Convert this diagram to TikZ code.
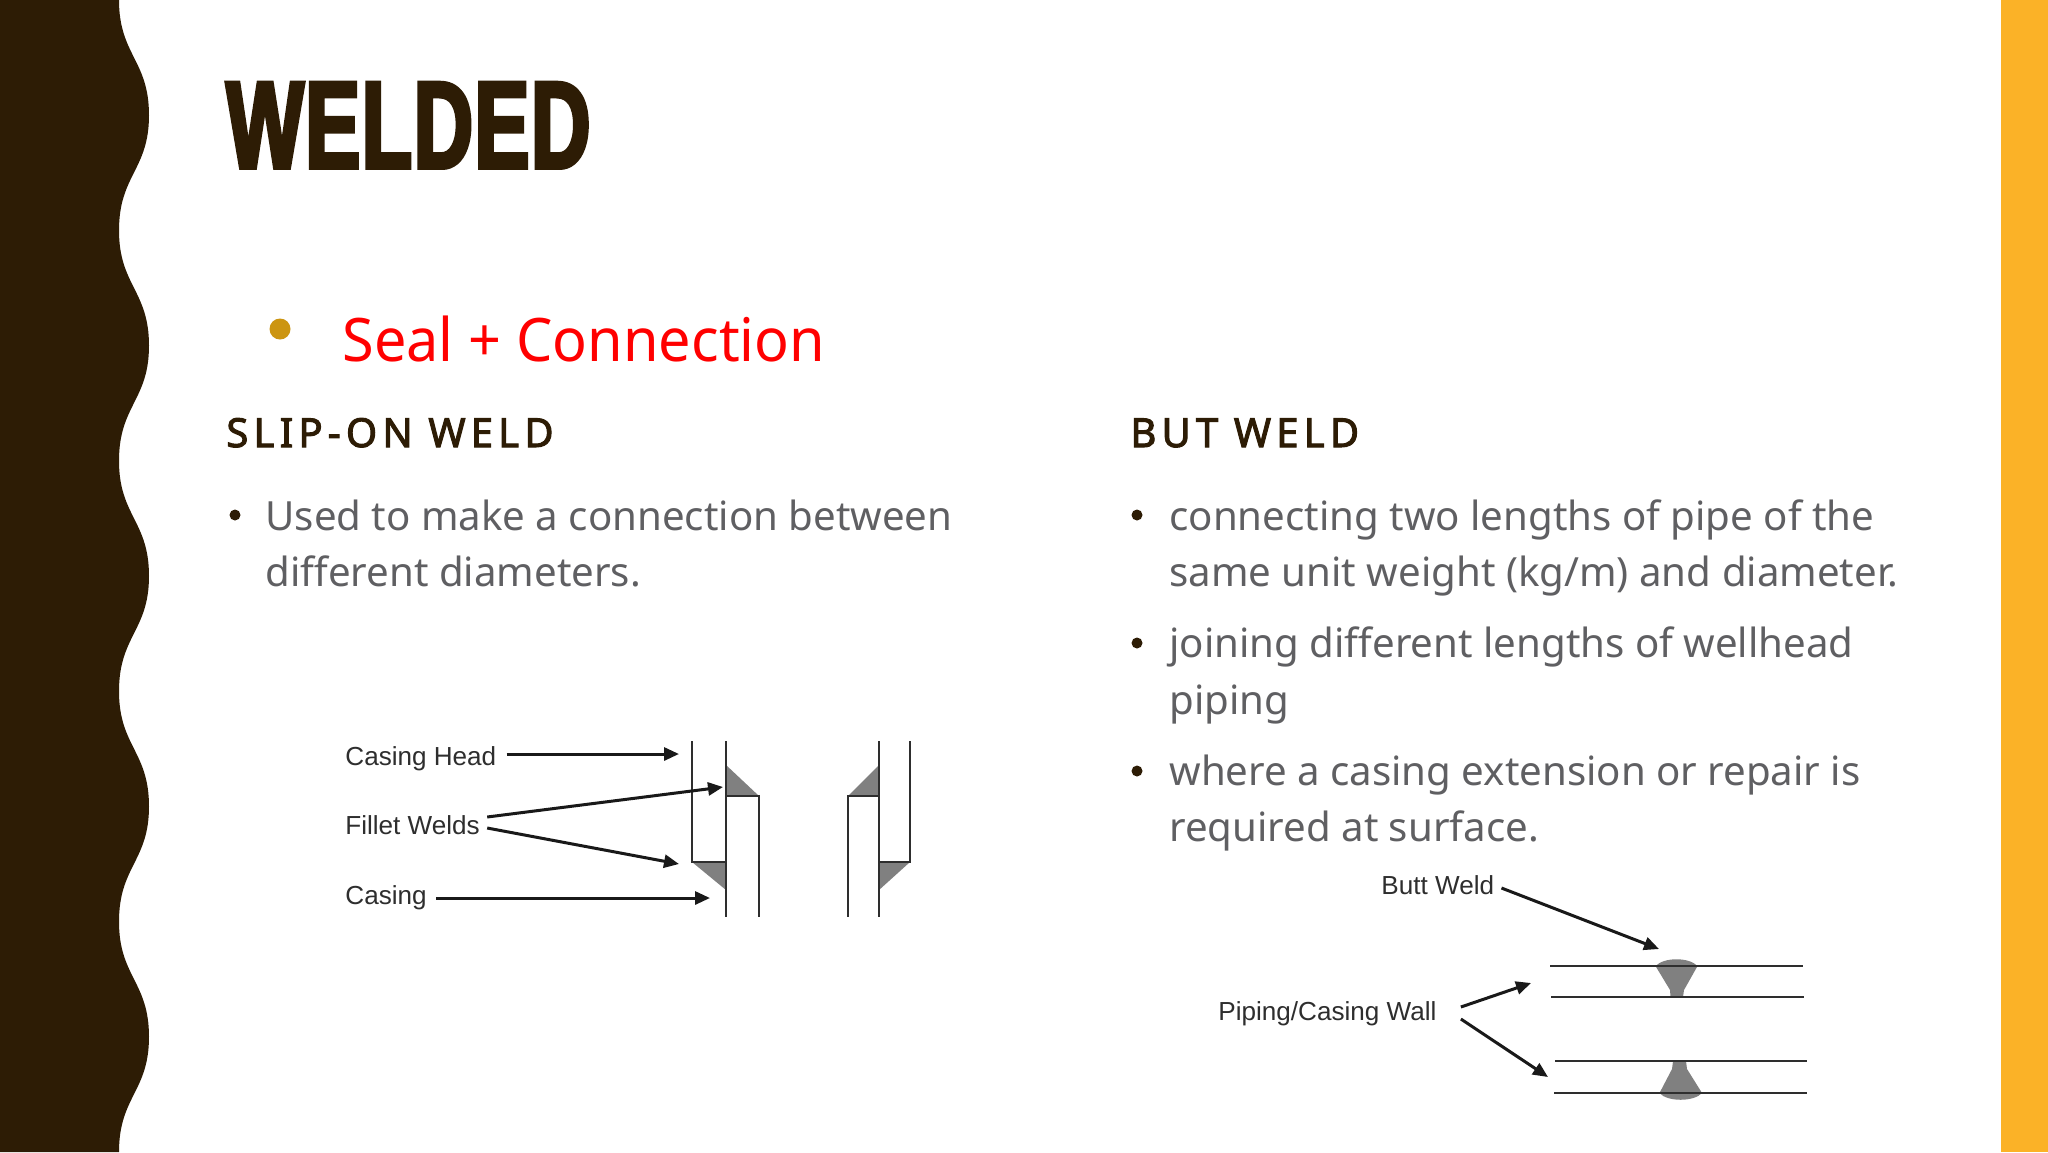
\documentclass[tikz,border=0pt]{standalone}
\usepackage{fontspec}
\usetikzlibrary{arrows.meta}
\setmainfont{Noto Sans}
\newfontfamily\titlefont[FakeStretch=0.66,FakeBold=3.2,LetterSpace=1.5]{Liberation Sans Bold}
\newfontfamily\figfont{Liberation Sans}
\newfontfamily\headfont[FakeBold=2.5,LetterSpace=13]{Noto Sans}
\newfontfamily\sealfont[FakeStretch=0.96]{Noto Sans}
\definecolor{brownD}{HTML}{2D1C05}
\definecolor{barY}{HTML}{FBB227}
\definecolor{bulG}{HTML}{CC9511}
\definecolor{bodyG}{HTML}{5F5F62}
\definecolor{weldG}{HTML}{808080}
\definecolor{figT}{HTML}{2E2E2E}
\tikzset{
  x=0.5pt,y=-0.5pt,
  titlet/.style={anchor=base west,inner sep=0pt,text=brownD,font=\titlefont\fontsize{62}{62}\selectfont},
  headt/.style={anchor=base west,inner sep=0pt,text=brownD,font=\headfont\fontsize{20}{20}\selectfont},
  bodyt/.style={anchor=base west,inner sep=0pt,text=bodyG,font=\fontsize{20.1}{20.1}\selectfont},
  figt/.style={anchor=west,inner sep=0pt,text=figT,font=\figfont\fontsize{13.05}{13.05}\selectfont},
  arr/.style={draw=black!90,line width=1.5pt,-{Triangle[length=7.5pt,width=6.5pt]}},
  pipe/.style={draw=figT,line width=1pt},
  weld/.style={fill=weldG,draw=none},
}
\begin{document}
\begin{tikzpicture}
\useasboundingbox (0,0) rectangle (2048,1152);
\fill[white] (0,0) rectangle (2048,1152);
% left wave
\fill[brownD] (0,0) -- (119,0)
  \foreach \k in {0,1,2,3,4}{
    .. controls ({119},{\k*230.4+55}) and ({149},{\k*230.4+60}) .. ({149},{\k*230.4+115.2})
    .. controls ({149},{\k*230.4+170}) and ({119},{\k*230.4+175}) .. ({119},{\k*230.4+230.4})
  } -- (0,1152) -- cycle;
% right bar
\fill[barY] (2001,0) rectangle (2048,1152);
% title
\node[titlet] (title) at (226,168) {WELDED};
% seal
\fill[bulG] (280,329) circle (10.5);
\node[anchor=base west,inner sep=0pt,text=red,font=\sealfont\fontsize{30}{30}\selectfont] (seal) at (342,361) {Seal + Connection};
% headers
\node[headt] (hl) at (226,447) {SLIP-ON WELD};
\node[headt] (hr) at (1130,447) {BUT WELD};
% bullets
\fill[brownD] (235,515) circle (5.5);
\fill[brownD] (1137,515) circle (5.5);
\fill[brownD] (1137,643) circle (5.5);
\fill[brownD] (1137,771) circle (5.5);
% left body
\node[bodyt] (l1) at (265,530) {Used to make a connection between};
\node[bodyt] (l2) at (265,586) {different diameters.};
% right body
\node[bodyt] (r1) at (1169,530) {connecting two lengths of pipe of the};
\node[bodyt] (r2) at (1169,586) {same unit weight (kg/m) and diameter.};
\node[bodyt] (r3) at (1169,657) {joining different lengths of wellhead};
\node[bodyt] (r4) at (1169,714) {piping};
\node[bodyt] (r5) at (1169,785) {where a casing extension or repair is};
\node[bodyt] (r6) at (1169,841) {required at surface.};
% slip-on figure
\fill[weld] (726,765) -- (759,796) -- (726,796) -- cycle;
\fill[weld] (692,862) -- (726,862) -- (726,890) -- cycle;
\fill[weld] (879,765) -- (879,796) -- (848,796) -- cycle;
\fill[weld] (879,862) -- (910,862) -- (879,890) -- cycle;
\draw[pipe] (692,741) -- (692,862) -- (726,862);
\draw[pipe] (726,741) -- (726,917);
\draw[pipe] (726,796) -- (759,796) -- (759,917);
\draw[pipe] (910,741) -- (910,862) -- (879,862);
\draw[pipe] (879,741) -- (879,917);
\draw[pipe] (879,796) -- (848,796) -- (848,917);
\node[figt] (chead) at (345,759) {Casing Head};
\node[figt] (fw) at (345,825) {Fillet Welds};
\node[figt] (cas) at (345,898) {Casing};
\coordinate (tchead) at (679,754);
\coordinate (tfw1) at (723,787);
\coordinate (tfw2) at (679,864);
\coordinate (tcas) at (710,898);
\draw[arr] ([shift={(10,-5)}]chead.east) -- (tchead);
\draw[arr] ([shift={(7,-8)}]fw.east) -- (tfw1);
\draw[arr] ([shift={(7,3)}]fw.east) -- (tfw2);
\draw[arr] ([shift={(9,0)}]cas.east) -- (tcas);
% butt figure
\fill[weld] (1655.5,966) .. controls (1664,957) and (1689,957) .. (1697.5,966)
  -- (1684,990) -- (1683,997) -- (1670.5,997) -- (1670,990) -- cycle;
\fill[weld] (1673,1061) -- (1686,1061) -- (1687,1069) -- (1702,1093)
  .. controls (1694,1102) and (1667,1102) .. (1659.5,1093) -- (1672,1069) -- cycle;
\draw[pipe] (1550,966) -- (1803,966);
\draw[pipe] (1551,997) -- (1804,997);
\draw[pipe] (1555,1061) -- (1807,1061);
\draw[pipe] (1554,1093) -- (1807,1093);
\node[figt] (bw) at (1381,885) {Butt Weld};
\node[figt] (pcw) at (1218,1014) {Piping/Casing Wall};
\coordinate (tbw) at (1659,949);
\coordinate (tp1) at (1531,983);
\coordinate (tp2) at (1548,1077);
\draw[arr] ([shift={(7,3)}]bw.east) -- (tbw);
\draw[arr] ([shift={(24,-7)}]pcw.east) -- (tp1);
\draw[arr] ([shift={(24,5)}]pcw.east) -- (tp2);
\end{tikzpicture}
\end{document}
